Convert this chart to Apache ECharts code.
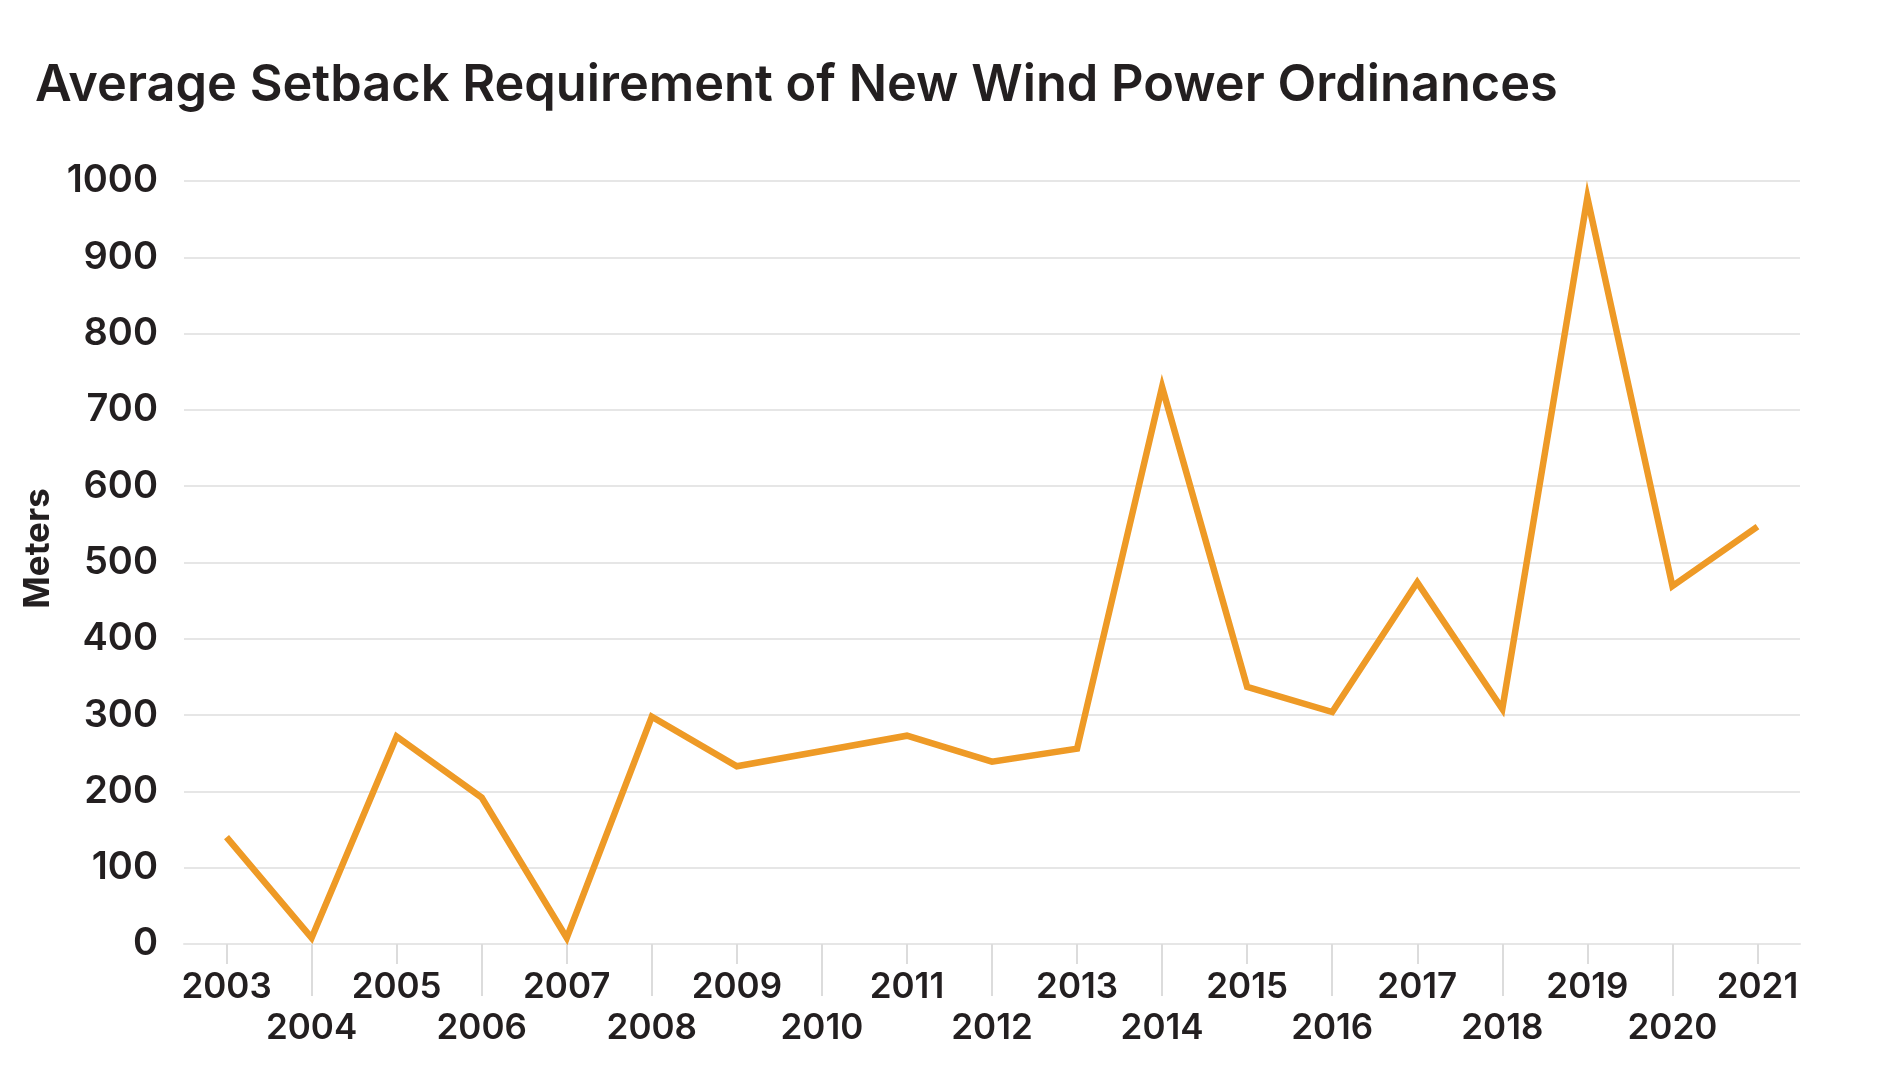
<!DOCTYPE html>
<html>
<head>
<meta charset="utf-8">
<title>Average Setback Requirement of New Wind Power Ordinances</title>
<script src="https://cdn.jsdelivr.net/npm/echarts@6/dist/echarts.min.js"></script>
<style>
  html, body { margin: 0; padding: 0; background: #fff; }
  #chart { width: 1889px; height: 1080px; }
</style>
</head>
<body>
<div id="chart"></div>
<script>
// years on the x axis
let years = ['2003','2004','2005','2006','2007','2008','2009','2010','2011','2012',
             '2013','2014','2015','2016','2017','2018','2019','2020','2021'];
// average setback, meters
let setback = [140, 8, 272, 192, 8, 298, 233, 253, 273, 239,
               256, 730, 337, 304, 474, 308, 978, 469, 547];
// y axis range
let yMin = 0, yMax = 1000, yStep = 100;

let textColor = '#231f20';
let gridColor = '#e6e6e6';
let tickColor = '#dcdcdc';

// tick-only axis, used twice: short ticks on the first row, long ones on the second
function tickAxis(len, showIt) {
  return {
    type: 'category',
    data: years,
    position: 'bottom',
    boundaryGap: true,
    axisLine: { show: false },
    axisLabel: { show: false },
    axisTick: {
      show: true,
      alignWithLabel: true,
      length: len,
      interval: showIt,
      lineStyle: { color: tickColor, width: 2 }
    }
  };
}

let chart = echarts.init(document.getElementById('chart'));

chart.setOption({
  backgroundColor: '#fff',
  animation: false,
  title: {
    text: 'Average Setback Requirement of New Wind Power Ordinances',
    left: 30,
    top: 55,
    textStyle: { fontFamily: 'Inter', fontWeight: 600, fontSize: 50.5, color: textColor }
  },
  grid: { left: 184, right: 89, top: 181, bottom: 136 },
  xAxis: [{
    type: 'category',
    data: years,
    boundaryGap: true,
    axisLine: { lineStyle: { color: gridColor, width: 2 } },
    axisTick: { show: false },
    axisLabel: {
      interval: 0,
      margin: 23,
      fontFamily: 'Inter', fontWeight: 600, fontSize: 35,
      lineHeight: 41,
      color: textColor,
      formatter: function (v, i) { return i % 2 === 1 ? '\n' + v : v; }  // even years on 2nd row
    }
  },
  tickAxis(20, function (i) { return i % 2 === 0; }),
  tickAxis(52, function (i) { return i % 2 === 1; })
  ],
  yAxis: {
    type: 'value',
    min: yMin,
    max: yMax,
    interval: yStep,
    name: 'Meters',
    nameLocation: 'middle',
    nameRotate: 90,
    nameGap: 128,
    nameTextStyle: {
      fontFamily: 'Inter', fontWeight: 700, fontSize: 35, color: textColor,
      padding: [0, 0, 0, 28]
    },
    axisLine: { show: false },
    axisTick: { show: false },
    axisLabel: {
      margin: 26,
      fontFamily: 'Inter', fontWeight: 600, fontSize: 38, color: textColor,
      formatter: function (v) { return String(v); }
    },
    splitLine: { lineStyle: { color: gridColor, width: 2 } }
  },
  series: [{
    type: 'line',
    data: setback,
    symbol: 'none',
    lineStyle: { color: '#ee9a26', width: 6.5, join: 'miter', miterLimit: 20 }
  }]
});
</script>
</body>
</html>
